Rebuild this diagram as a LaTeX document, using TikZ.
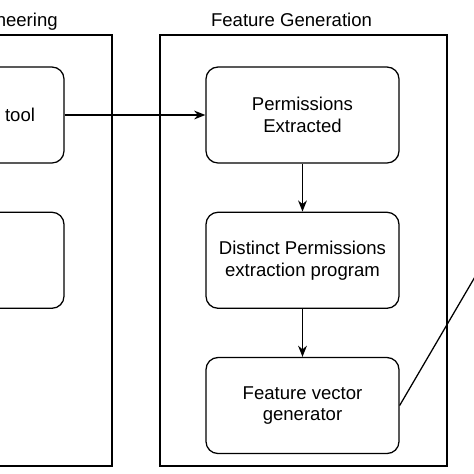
\documentclass[tikz,border=0pt]{standalone}
\usepackage{fontspec}
\setmainfont{Liberation Sans}
\usetikzlibrary{positioning,arrows.meta}

\begin{document}
\begin{tikzpicture}[
  node distance=1.2cm,
  box/.style={rectangle, rounded corners=0.3cm, draw, line width=0.9pt, minimum width=4.825cm, minimum height=2.4cm, align=center, font=\fontsize{13.2}{15.6}\selectfont},
  group/.style={rectangle, draw, line width=0.9pt, minimum width=7.175cm, minimum height=10.775cm},
  title/.style={font=\fontsize{13.2}{15.6}\selectfont},
  arrow/.style={-{Stealth[length=0.28cm, width=0.22cm]}, line width=0.9pt}
]
  \useasboundingbox (0,0) rectangle (11.85,-11.85);
  \clip (0,0) rectangle (11.85,-11.85);

  % Groupes
  \node[group] (revgroup) at (-0.7875,-6.2625) {};
  \node[group] (featgen) at (7.5875,-6.2625) {};
  \node[title, anchor=base east] (revtitle) at ([xshift=-1.25cm, yshift=0.2cm]revgroup.north east) {neering};
  \node[title, anchor=base] (fgtitle) at ([xshift=-0.3cm, yshift=0.2cm]featgen.north) {Feature Generation};

  % Reverse engineering (gauche)
  \node[box, minimum width=2.2cm] (apktool) at (0.5,-2.875) {tool};
  \node[box, minimum width=2.2cm, below=of apktool] (leftbox) {};

  % Feature generation (droite)
  \node[box] (perm) at (7.5625,-2.875) {Permissions\\Extracted};
  \node[box, below=of perm] (distinct) {Distinct Permissions\\extraction program};
  \node[box, below=of distinct] (featvec) {Feature vector\\generator};
  \coordinate (out) at (13,-5.0);

  % Fleches
  \draw[arrow] (apktool) -- (perm);
  \draw[arrow] (perm) -- (distinct);
  \draw[arrow] (distinct) -- (featvec);
  \draw[line width=0.9pt] (featvec.east) -- (out);

\end{tikzpicture}
\end{document}
